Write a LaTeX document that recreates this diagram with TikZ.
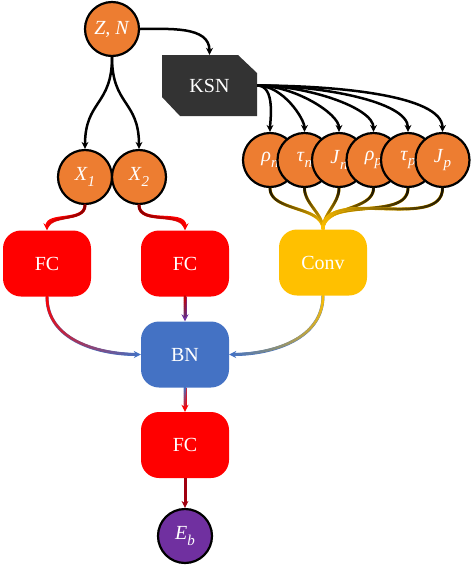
\documentclass[tikz,border=0pt]{standalone}
\usepackage{fontspec}
\setmainfont{Liberation Serif}
\usetikzlibrary{arrows.meta,decorations.markings}
\definecolor{corange}{HTML}{ED7D31}
\definecolor{cred}{HTML}{FF0000}
\definecolor{cdkred}{HTML}{7A0000}
\definecolor{cgold}{HTML}{FFC000}
\definecolor{cdark}{HTML}{100C00}
\definecolor{cblue}{HTML}{4472C4}
\definecolor{cpurple}{HTML}{7030A0}
\definecolor{cksn}{HTML}{333333}
\definecolor{cfcout}{HTML}{A00010}
\newcommand\myvar[2]{\textit{#1}\raisebox{-0.28em}{\fontsize{15}{15}\selectfont\itshape #2}}
\tikzset{
  txt/.style={text=white, font=\fontsize{20}{22}\selectfont},
  circ/.style={circle, draw=black, line width=2.2pt, fill=corange, minimum size=54pt, inner sep=0pt, txt},
  box/.style={rectangle, rounded corners=18pt, minimum width=88pt, minimum height=66pt, inner sep=0pt, txt},
  blk/.style={line width=2.5pt, draw=black, -{Stealth[length=7pt,width=7pt]}},
  cline/.style={line width=3pt, -{Stealth[length=7pt,width=7pt]}},
  gline/.style={line width=3pt},
  grad/.style n args={2}{postaction={decorate, decoration={markings,
     mark=between positions 0 and -5pt step 0.8pt with {%
       \pgfmathsetmacro\gpct{min(100,max(0,100*(\pgfkeysvalueof{/pgf/decoration/mark info/distance from start})/(\pgfdecoratedpathlength)))}%
       \fill[color=#2!\gpct!#1] (0,0) circle (1.5pt);}}}},
}
\begin{document}
\begin{tikzpicture}[x=1pt,y=1pt]
\useasboundingbox (0,0) rectangle (474,-565);
% KSN shape
\fill[cksn, shift={(209.5,-85.5)}] (-47.5,30.5) -- (28.5,30.5) -- (47.5,12.5) -- (47.5,-30.5) -- (-29.5,-30.5) -- (-47.5,-11.5) -- cycle;
\node[rectangle, minimum width=95pt, minimum height=61pt, inner sep=0pt, txt] (KSN) at (209.5,-85.5) {KSN};
% circles
\node[circ] (ZN) at (112,-29) {\textit{Z, N}};
\node[circ] (X1) at (85,-177) {\myvar{X}{1}};
\node[circ] (X2) at (139,-177) {\myvar{X}{2}};
\node[circ] (rn) at (270,-160) {\myvar{ρ}{n}};
\node[circ] (tn) at (304.5,-160) {\myvar{τ}{n}};
\node[circ] (Jn) at (339,-160) {\myvar{J}{n}};
\node[circ] (rp) at (373.5,-160) {\myvar{ρ}{p}};
\node[circ] (tp) at (408,-160) {\myvar{τ}{p}};
\node[circ] (Jp) at (442.5,-160) {\myvar{J}{p}};
% boxes
\node[box, fill=cred] (FC1) at (47,-263.5) {FC};
\node[box, fill=cred] (FC2) at (185,-263.5) {FC};
\node[box, fill=cgold] (Conv) at (323,-262.5) {Conv};
\node[box, fill=cblue] (BN) at (185,-354.5) {BN};
\node[box, fill=cred] (FC3) at (185,-445) {FC};
\node[circ, fill=cpurple] (Eb) at (185,-536) {\myvar{E}{b}};
% black edges
\draw[blk] (ZN.east) to[out=0,in=90] (KSN.north);
\draw[blk] (ZN.south) to[out=-90,in=90,looseness=1.3] (X1.north);
\draw[blk] (ZN.south) to[out=-90,in=90,looseness=1.3] (X2.north);
\foreach \c in {rn,tn,Jn,rp,tp,Jp}{
  \draw[blk] (KSN.east) to[out=0,in=90,out looseness=1,in looseness=0.5] (\c.north);
}
% circles to Conv
\foreach \c in {rn,tn,Jn,rp,tp,Jp}{
  \draw[gline, draw=cgold, grad={cdark}{cgold}] (\c.south) to[out=-90,in=90,looseness=0.9] (Conv.north);
}
% coloured edges
\draw[cline, draw=cred, grad={cdkred}{cred}] (X1.south) to[out=-90,in=90] (FC1.north);
\draw[cline, draw=cred, grad={cdkred}{cred}] (X2.south) to[out=-90,in=90] (FC2.north);
\draw[cline, draw=cblue, grad={cred}{cblue}] (FC1.south) to[out=-90,in=180] (BN.west);
\draw[cline, draw=cblue, grad={cgold}{cblue}] (Conv.south) to[out=-90,in=0] (BN.east);
\draw[cline, draw=cpurple, grad={cred!80!black}{cpurple!70!cblue}] (FC2.south) -- (BN.north);
\draw[cline, draw=cred, grad={cblue}{cred}] (BN.south) -- (FC3.north);
\draw[cline, draw=cfcout] (FC3.south) -- (Eb.north);
\end{tikzpicture}
\end{document}
